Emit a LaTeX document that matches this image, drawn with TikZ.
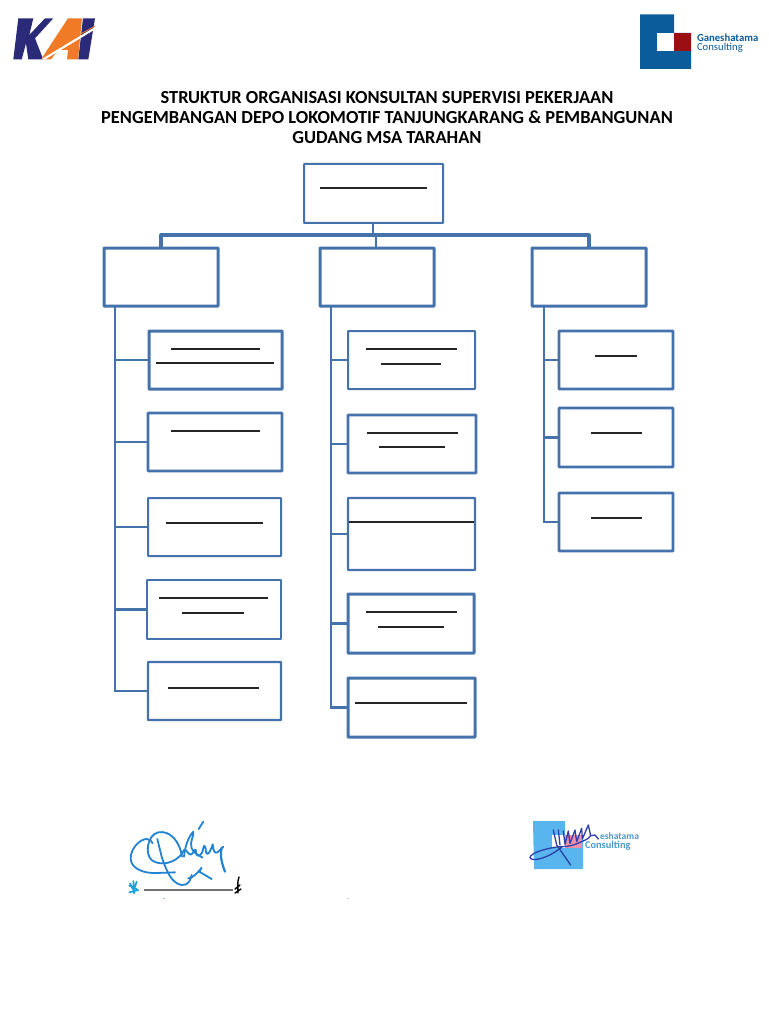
\documentclass[tikz,border=0pt]{standalone}
\usepackage{fontspec}
\setmainfont{Carlito}
\definecolor{boxblue}{HTML}{4672AB}
\definecolor{kainavy}{HTML}{2A2A78}
\definecolor{kaiorange}{HTML}{F07A26}
\definecolor{gblue}{HTML}{0B5C9B}
\definecolor{gred}{HTML}{9B0F14}
\definecolor{sigblue}{HTML}{2183D2}
\definecolor{stampblue}{HTML}{58B5EE}
\definecolor{stamppink}{HTML}{F08FA8}
\definecolor{inkblue}{HTML}{2C3FA8}
\tikzset{
 orgbox/.style={draw=boxblue,line width=2.6pt,fill=white,rounded corners=0.5pt},
 link/.style={draw=boxblue,line width=3.2pt,line cap=butt},
 bar/.style={draw=black!85,line width=1.3pt},
 sigline/.style={draw=sigblue,line width=1.8pt,line cap=round,line join=round},
 inkline/.style={draw=inkblue,line width=1.3pt,line join=round,line cap=round},
 titletext/.style={font=\bfseries\fontsize{18.4}{20}\selectfont,align=center,text=black}
}
\newcommand{\obox}[6][]{\node[orgbox,#1,minimum width=#5-#3,minimum height=#6-#4,inner sep=0pt,anchor=north west] (#2) at (#3,#4) {};}
\begin{document}
\begin{tikzpicture}[x=1pt,y=-1pt,every node/.style={outer sep=0pt}]
\useasboundingbox[fill=white] (0,0) rectangle (768,1024);
% KAI logo
\fill[kainavy] (18.3,18.3) -- (33.3,18.3) -- (29.3,35) -- (45,18.3) -- (53.3,18.3) -- (35,38.3) -- (43.3,59.5) -- (28.3,59.5) -- (26,43.3) -- (21.7,59.5) -- (13.3,59.5) -- cycle;
\fill[kaiorange] (41,59.5) -- (68,18.3) -- (82,18.3) -- (78,59.5) -- (67,59.5) -- (68,50) -- (58,50) -- (51,59.5) -- cycle;
\fill[kainavy] (83,18.3) -- (95,18.3) -- (88.3,59.5) -- (78.3,59.5) -- cycle;
\fill[white] (41,59.5) -- (95,27) -- (95,29.5) -- (45,59.5) -- cycle;
\draw[kaiorange,line width=0.8pt] (72,39) -- (95,26);
% Ganeshatama logo
\fill[gblue] (640,14.5) -- (674,14.5) -- (674,33) -- (691,33) -- (691,69) -- (640,69) -- cycle;
\fill[white] (657,33) rectangle (674,51);
\fill[gred] (674,33) rectangle (691,51);
\node[anchor=west,text=gblue,font=\bfseries\fontsize{10.7}{12}\selectfont,inner sep=0pt] (gtop) at (697,37.5) {Ganeshatama};
\node[anchor=west,text=gblue,font=\fontsize{10.7}{12}\selectfont,inner sep=0pt] (gbot) at (697,48) {Consulting};
% Title
\node[titletext,anchor=center,inner sep=0pt] (title) at (387,117.5) {STRUKTUR ORGANISASI KONSULTAN SUPERVISI PEKERJAAN\\PENGEMBANGAN DEPO LOKOMOTIF TANJUNGKARANG \& PEMBANGUNAN\\GUDANG MSA TARAHAN};
% Connector helpers
\coordinate (hL) at (161,235); \coordinate (hR) at (589,235);
\coordinate (rootfoot) at (373,235); \coordinate (midhead) at (376,235);
% Boxes
\obox[line width=2pt]{root}{304}{164}{443}{223}
\obox[line width=3pt]{a}{104}{248}{218}{306}
\obox[line width=3pt]{b}{320}{248}{434}{306}
\obox[line width=3pt]{c}{532}{248}{646}{306}
\obox[line width=3pt]{a1}{149}{331}{282}{389}
\obox{a2}{148}{413}{282}{471}
\obox[line width=2pt]{a3}{148}{498}{281}{556}
\obox[line width=1.8pt]{a4}{147}{580}{281}{639}
\obox[line width=2.2pt]{a5}{148}{662}{281}{720}
\obox[line width=2pt]{b1}{348}{331}{475}{389}
\obox[line width=2.8pt]{b2}{348}{415}{476}{473}
\obox[line width=2.2pt]{b3}{348}{498}{475}{570}
\obox[line width=3pt]{b4}{348}{594}{474}{653}
\obox[line width=3pt]{b5}{348}{678}{475}{737}
\obox[line width=2.8pt]{c1}{559}{331}{673}{389}
\obox[line width=2.8pt]{c2}{559}{408}{673}{467}
\obox[line width=2.8pt]{c3}{559}{493}{673}{551}
% Top tree
\draw[link,line join=round] (hL |- a.north) -- (hL) -- (hR) -- (hR |- c.north);
\draw[link,line width=2pt] (rootfoot |- root.south) -- (rootfoot);
\draw[link,line width=2pt] (midhead) -- (midhead |- b.north);
% Spines and branches
\coordinate (sa) at (115,306); \coordinate (sb) at (331,306); \coordinate (sc) at (544,306);
\draw[link,line width=2.2pt] (sa) -- (sa |- a5.west) -- (a5.west);
\foreach \n in {a1,a2,a3,a4} \draw[link,line width=2.8pt] (sa |- \n.west) -- (\n.west);
\draw[link,line width=2.8pt] (sb) -- (sb |- b5.west) -- (b5.west);
\foreach \n in {b1,b2,b3,b4} \draw[link,line width=2.2pt] (sb |- \n.west) -- (\n.west);
\draw[link,line width=2.8pt] (sc) -- (sc |- c3.west) -- (c3.west);
\foreach \n in {c1,c2} \draw[link,line width=2.2pt] (sc |- \n.west) -- (\n.west);
% Redaction bars
\foreach \xa/\xb/\yy/\w in {320/427/188/2,171/260/349/1.2,156/274/363/1.5,171/260/431/1.2,166/263/523/1.5,159/268/598/1.3,182/244/613/1.3,168/259/688/1.5,366/457/349/1.3,381/441/364/1.2,367/458/433/1.2,379/445/447/1.2,349/474/522/1.3,366/457/612/1.2,378/444/627/1.2,355/467/703/1.7,595/637/356/1.3,591/642/433/1.3,591/642/518/1.3}
  \draw[bar,line width=\w pt] (\xa,\yy) -- (\xb,\yy);
% Left signature
\begin{scope}[shift={(120,815)},x=0.3333pt,y=-0.3333pt]
\draw[sigline] (165,172) -- (110,174) .. controls (70,176) and (32,160) .. (32,130) .. controls (32,100) and (60,72) .. (80,72) .. controls (90,72) and (95,78) .. (98,85);
\draw[sigline] (178,125) .. controls (150,150) and (115,150) .. (95,135) .. controls (75,120) and (80,60) .. (115,52) .. controls (150,45) and (180,80) .. (186,125);
\draw[sigline] (112,72) -- (125,125) .. controls (140,170) and (155,205) .. (185,210) .. controls (205,212) and (212,195) .. (215,180);
\draw[sigline] (178,125) .. controls (188,118) and (190,100) .. (197,105) .. controls (205,112) and (208,125) .. (218,115) .. controls (224,105) and (228,95) .. (228,115) .. controls (232,128) and (245,125) .. (250,100) .. controls (252,85) and (258,95) .. (258,112) .. controls (262,125) and (272,110) .. (278,88) .. controls (280,105) and (283,118) .. (292,112) .. controls (300,106) and (305,100) .. (310,95);
\draw[sigline] (192,125) .. controls (195,95) and (205,65) .. (220,50) .. controls (222,65) and (208,80) .. (215,100) .. controls (222,115) and (235,120) .. (248,128);
\draw[sigline] (236,42) -- (250,20);
\draw[sigline,line width=2.2pt] (305,98) .. controls (300,115) and (303,140) .. (315,170);
\draw[sigline] (205,190) .. controls (220,190) and (240,165) .. (245,158) -- (238,170) -- (275,192);
\draw[sigline,draw=sigblue!75!cyan,line width=1.7pt] (28,212) -- (50,222) (40,198) -- (42,235) (28,232) -- (55,225) (50,200) -- (45,215) (30,205) -- (38,222);
\end{scope}
\draw[draw=black!55,line width=1.3pt] (144,890) -- (233,890);
\draw[black,line width=1.4pt,line cap=round] (239,877) .. controls (237,882) and (238,888) .. (238,893) (235,889) -- (240,885) (235,893) -- (241,889);
\fill[sigblue] (164,898.5) circle (0.7);
\fill[black!40] (348,898.5) circle (0.6);
% Stamp
\fill[stampblue] (533,821) -- (565,821) -- (565,835) -- (583,835) -- (583,869) -- (534,869) -- cycle;
\fill[white] (552,835) rectangle (565,848);
\fill[stamppink] (565,835) rectangle (582,848);
\node[anchor=west,text=stampblue!85!black,font=\bfseries\fontsize{9.6}{11}\selectfont,inner sep=0pt] (stop) at (600,836) {eshatama};
\node[anchor=west,text=stampblue!85!black,font=\bfseries\fontsize{10.4}{12}\selectfont,inner sep=0pt] (sbot) at (585,845.5) {Consulting};
\begin{scope}[shift={(525,815)},x=0.3333pt,y=-0.3333pt]
\draw[inkline] (112,95) .. controls (80,95) and (15,112) .. (15,128) .. controls (20,142) and (70,130) .. (112,95) .. controls (130,95) and (150,90) .. (170,80) .. controls (180,76) and (190,72) .. (197,62) -- (210,60) -- (220,72);
\draw[inkline] (85,45) -- (95,90) -- (137,150);
\draw[inkline] (100,45) -- (105,90);
\draw[inkline] (115,48) -- (120,88) -- (130,48) -- (135,85) -- (150,45) -- (155,80) -- (170,40) -- (172,72) -- (190,30) -- (197,62);
\end{scope}
\end{tikzpicture}
\end{document}
